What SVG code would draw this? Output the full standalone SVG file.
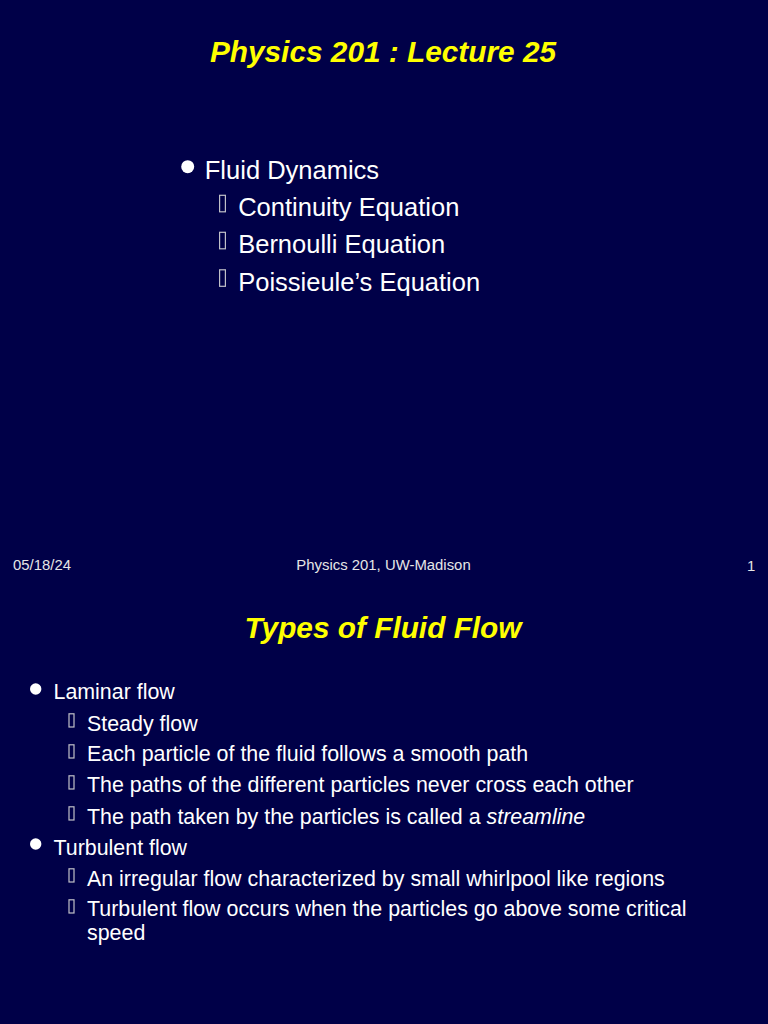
<svg xmlns="http://www.w3.org/2000/svg" width="768" height="1024" viewBox="0 0 768 1024">
<style>
text{font-family:"Liberation Sans",Arial,sans-serif;fill:#fff}
.t{font-size:29.800px;font-weight:bold;font-style:italic;fill:#ff0;text-anchor:middle}
.a{font-size:25.500px}
.b{font-size:21.400px}
.f{font-size:14.900px;fill:#e6e6e6}
.d{fill:#fff}
.x{fill:none;stroke:#c0c0c8;stroke-width:1.2}
</style>
<rect width="768" height="1024" fill="#000048"/>
<g id="slide1">
<text class="t" x="383" y="62.400">Physics 201 : Lecture 25</text>
<circle class="d" cx="187.700" cy="166.700" r="6.500"/>
<text class="a" x="204.800" y="179.400">Fluid Dynamics</text>
<rect class="x" x="219.600" y="195.300" width="5.800" height="16.500"/>
<text class="a" x="238.200" y="216.400">Continuity Equation</text>
<rect class="x" x="219.600" y="232.300" width="5.800" height="16.500"/>
<text class="a" x="238.200" y="253.400">Bernoulli Equation</text>
<rect class="x" x="219.600" y="269.800" width="5.800" height="16.500"/>
<text class="a" x="238.200" y="291.400">Poissieule’s Equation</text>
<text class="f" x="13" y="570">05/18/24</text>
<text class="f" x="383.500" y="570" text-anchor="middle">Physics 201, UW-Madison</text>
<text class="f" x="747" y="571">1</text>
</g>
<g id="slide2">
<text class="t" x="383" y="638.400">Types of Fluid Flow</text>
<circle class="d" cx="35.700" cy="689" r="5.700"/>
<text class="b" x="53.500" y="699">Laminar flow</text>
<rect class="x" x="69" y="713.800" width="5" height="13.200"/>
<text class="b" x="87" y="731">Steady flow</text>
<rect class="x" x="69" y="744.800" width="5" height="13.200"/>
<text class="b" x="87" y="761.400">Each particle of the fluid follows a smooth path</text>
<rect class="x" x="69" y="775.800" width="5" height="13.200"/>
<text class="b" x="87" y="792.400">The paths of the different particles never cross each other</text>
<rect class="x" x="69" y="806.800" width="5" height="13.200"/>
<text class="b" x="87" y="824">The path taken by the particles is called a <tspan font-style="italic">streamline</tspan></text>
<circle class="d" cx="35.700" cy="844" r="5.700"/>
<text class="b" x="53.500" y="855">Turbulent flow</text>
<rect class="x" x="69" y="868.800" width="5" height="13.200"/>
<text class="b" x="87" y="886.400">An irregular flow characterized by small whirlpool like regions</text>
<rect class="x" x="69" y="899.800" width="5" height="13.200"/>
<text class="b" x="87" y="916.400">Turbulent flow occurs when the particles go above some critical</text>
<text class="b" x="87" y="940">speed</text>
</g>
</svg>
